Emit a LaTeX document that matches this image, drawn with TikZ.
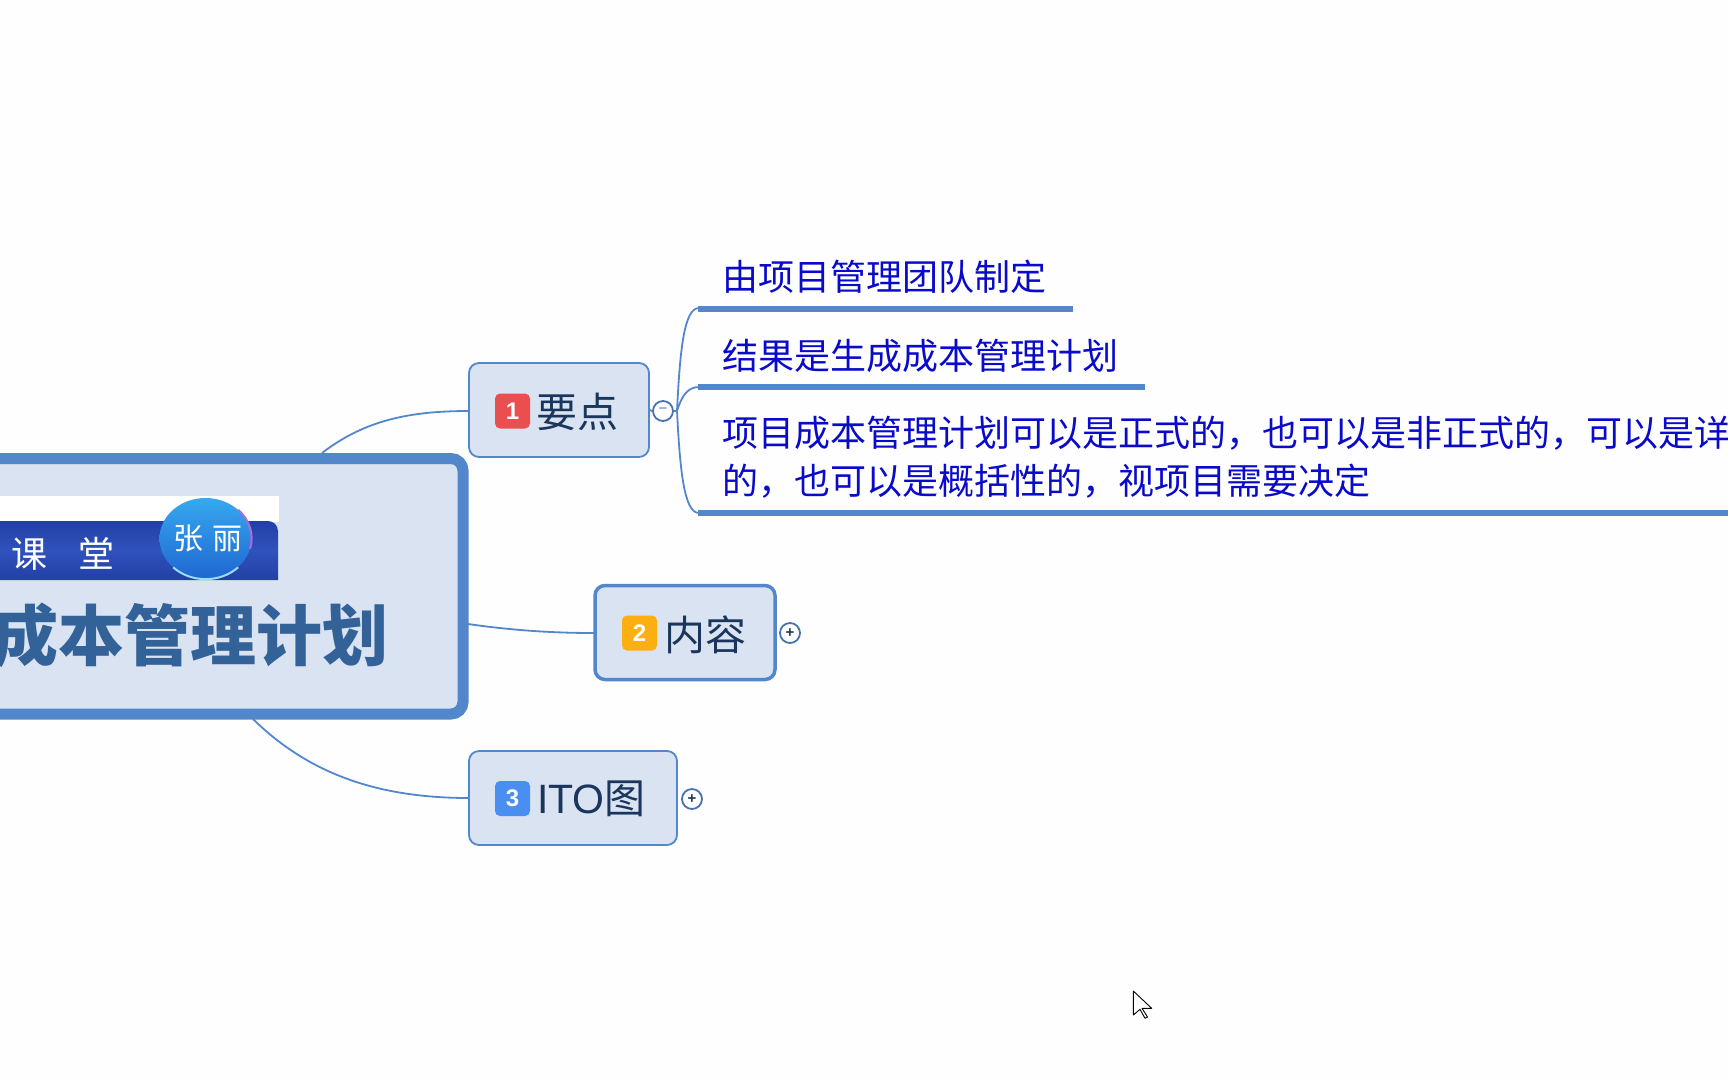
\documentclass[tikz,border=0pt]{standalone}
\usepackage{fontspec}
\setmainfont{Liberation Sans}
\newfontfamily\cjk{Noto Sans CJK SC}
\usetikzlibrary{shapes.geometric}
\definecolor{mapblue}{HTML}{5287CB}
\definecolor{mapfill}{HTML}{DAE3F1}
\definecolor{mapink}{HTML}{1B365D}
\definecolor{titleink}{HTML}{336299}
\definecolor{subink}{HTML}{0A0ACB}
\definecolor{bannerdark}{HTML}{233FA6}
\definecolor{bannerlight}{HTML}{2F52BC}
\definecolor{badgetop}{HTML}{36A9EE}
\definecolor{badgelow}{HTML}{1F66D2}
\definecolor{badgeglow}{HTML}{B06AE0}
\definecolor{iconred}{HTML}{EB4E4E}
\definecolor{iconyellow}{HTML}{FBAF10}
\definecolor{iconblue}{HTML}{4A8EF2}
\tikzset{
  topicbox/.style={draw=mapblue,fill=mapfill,rounded corners=10pt,line width=1.8pt,minimum height=94pt,inner sep=0pt},
  topicicon/.style={rounded corners=5pt,minimum size=35pt,inner sep=0pt,text=white,font=\fontsize{24}{24}\selectfont\bfseries},
  topictext/.style={anchor=west,inner sep=0pt,text=mapink,font=\fontsize{41}{41}\selectfont\cjk},
  subtext/.style={anchor=west,inner sep=0pt,text=subink,font=\fontsize{36}{36}\selectfont\cjk},
  toggle/.style={circle,draw=mapblue!85!black,fill=white,line width=1.8pt,minimum size=20pt,inner sep=0pt,font=\fontsize{15}{15}\selectfont\bfseries},
  branch/.style={draw=mapblue,line width=1.8pt},
  subline/.style={draw=mapblue,line width=6pt}
}
\begin{document}
\begin{tikzpicture}[x=1pt,y=-1pt]
\clip (0,0) rectangle (1728,1080);
\fill[white!99.5!black] (0,0) rectangle (1728,1080);
\coordinate (mainA) at (322,453);
\coordinate (mainB) at (468,624);
\coordinate (mainC) at (253,719);
\coordinate (forkA) at (677,411);
\draw[branch] (mainA) .. controls (365,420) and (410,411) .. (469,411);
\draw[branch] (mainB) .. controls (510,630) and (550,633) .. (594,633);
\draw[branch] (mainC) .. controls (310,775) and (380,798) .. (469,798);
\node[draw=mapblue,fill=mapfill,line width=11pt,rounded corners=12pt,minimum width=503pt,minimum height=255.5pt,inner sep=0pt] (maintopic) at (211.5,586.25) {};
\fill[white] (-5,496) rectangle (279,522);
\path[top color=bannerdark,bottom color=bannerdark,middle color=bannerlight] (-5,521) -- (268,521) arc[start angle=-90,end angle=0,radius=10] -- (278,580) -- (-5,580) -- cycle;
\node[ellipse,minimum width=92pt,minimum height=81pt,inner sep=0pt,top color=badgetop,bottom color=badgelow] (badge) at (205.5,538.5) {};
\draw[badgeglow,line width=2pt] (badge.north east) arc[start angle=-45,end angle=15,x radius=46,y radius=40.5];
\draw[white!60!cyan,line width=2pt] (badge.south east) arc[start angle=45,end angle=135,x radius=46,y radius=40.5];
\node[inner sep=0pt,text=white,font=\fontsize{30}{30}\selectfont\cjk] (teacher) at (208,538) {张\hspace{10pt}丽};
\node[inner sep=0pt,text=white,font=\fontsize{36}{36}\selectfont\cjk] (bannertext) at (63.5,553.5) {课\hspace{31pt}堂};
\node[anchor=east,inner sep=0pt,text=titleink,font=\fontsize{66}{66}\selectfont\cjk\bfseries] (maintitle) at (389,635) {成本管理计划};
\node[topicbox,minimum width=180pt] (topicA) at (559,410) {};
\node[topicbox,minimum width=180pt,line width=3.5pt] (topicB) at (685,632.5) {};
\node[topicbox,minimum width=208pt] (topicC) at (573,798) {};
\node[topicicon,fill=iconred] (iconA) at (512.5,411) {1};
\node[topicicon,fill=iconyellow] (iconB) at (639.5,633) {2};
\node[topicicon,fill=iconblue] (iconC) at (512.5,798.5) {3};
\node[topictext] (labelA) at (536,412) {要点};
\node[topictext] (labelB) at (664,635) {内容};
\node[topictext] (labelC) at (537,799) {\rmfamily ITO\cjk 图};
\node[toggle,text=mapblue!70!white] (toggleA) at (663,411) {−};
\node[toggle,text=mapink] (toggleB) at (790,633) {+};
\node[toggle,text=mapink] (toggleC) at (692,799) {+};
\draw[branch] (topicA.east) -- (toggleA.west);
\draw[branch] (toggleA.east) -- (forkA);
\draw[branch] (forkA) .. controls (680,350) and (684,308) .. (699,308);
\draw[branch] (forkA) .. controls (682,395) and (688,387) .. (699,387);
\draw[branch] (forkA) .. controls (680,470) and (684,513) .. (699,513);
\draw[subline] (698,308.5) -- (1073,308.5);
\draw[subline] (698,387) -- (1145,387);
\draw[subline] (698,513) -- (1728,513);
\node[subtext] (subA) at (722,276.5) {由项目管理团队制定};
\node[subtext] (subB) at (722,355.5) {结果是生成成本管理计划};
\node[subtext] (subC) at (722,433.5) {项目成本管理计划可以是正式的，也可以是非正式的，可以是详};
\node[subtext] (subD) at (722,481.5) {的，也可以是概括性的，视项目需要决定};
\draw[fill=white,line width=.9pt,line join=round] (1133.3,991) -- (1133.3,1015) -- (1140,1009.3) -- (1145,1018.3) -- (1147.5,1017) -- (1142,1008.3) -- (1151.7,1008.3) -- cycle;
\end{tikzpicture}
\end{document}
